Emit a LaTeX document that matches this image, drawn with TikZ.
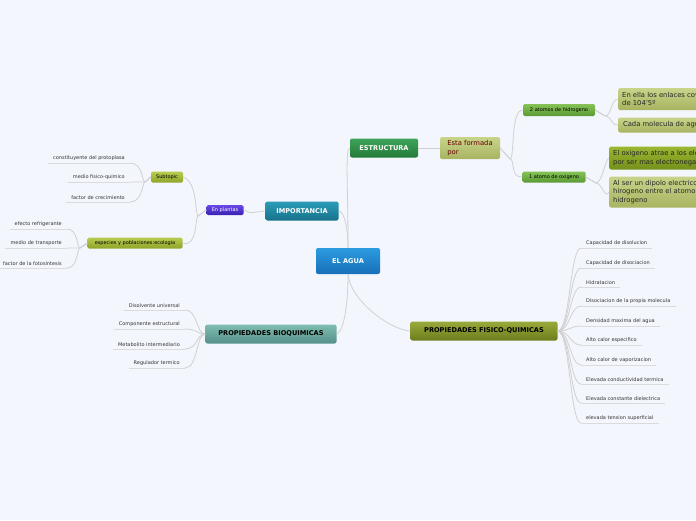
\documentclass[tikz,border=0pt]{standalone}
\usepackage{fontspec}
\setmainfont{DejaVu Sans}
\definecolor{bgc}{HTML}{F3F6FD}
\definecolor{rootT}{HTML}{2C9BE0}\definecolor{rootB}{HTML}{176FB8}
\definecolor{estT}{HTML}{3FA45A}\definecolor{estB}{HTML}{237A38}
\definecolor{impT}{HTML}{2A9DB8}\definecolor{impB}{HTML}{17728C}
\definecolor{bioT}{HTML}{80BDB0}\definecolor{bioB}{HTML}{54908A}
\definecolor{fisT}{HTML}{9AAA3A}\definecolor{fisB}{HTML}{6C7C1C}
\definecolor{grT}{HTML}{86C256}\definecolor{grB}{HTML}{5A9A34}
\definecolor{olT}{HTML}{C8D48A}\definecolor{olB}{HTML}{A8B460}
\definecolor{ogT}{HTML}{B8CC50}\definecolor{ogB}{HTML}{8EA428}
\definecolor{dkT}{HTML}{9AB832}\definecolor{dkB}{HTML}{74901A}
\definecolor{puT}{HTML}{6A48E8}\definecolor{puB}{HTML}{3A20B0}
\begin{document}
\begin{tikzpicture}[x=1pt,y=-1pt,
  box/.style={rounded corners=1.5pt,minimum height=#1,inner xsep=4pt,inner ysep=1pt,font=\fontsize{5}{6}\selectfont,text=black},
  main/.style={rounded corners=2pt,font=\bfseries\fontsize{6.6}{8}\selectfont,text=white,inner xsep=7pt,minimum height=19pt},
  big/.style={rounded corners=2pt,font=\fontsize{6.8}{8.5}\selectfont,align=left,inner xsep=4pt,inner ysep=3pt,text=black!85},
  leafR/.style={font=\fontsize{5}{6}\selectfont,inner xsep=5pt,inner ysep=2pt,anchor=south west,text=black!80},
  leafL/.style={font=\fontsize{5}{6}\selectfont,inner xsep=5pt,inner ysep=2pt,anchor=south east,text=black!80},
  ln/.style={draw=black!18,line width=0.8pt},
  ul/.style={draw=black!14,line width=0.7pt}]
\fill[bgc] (0,0) rectangle (696,520);
\useasboundingbox (0,0) rectangle (696,520);
\begin{scope}
\clip (0,0) rectangle (696,520);
\node[main,top color=rootT,bottom color=rootB,minimum width=64pt,minimum height=26pt] (root) at (348,261) {EL AGUA};
\node[main,top color=estT,bottom color=estB,minimum width=68pt] (est) at (384,148) {ESTRUCTURA};
\node[main,top color=impT,bottom color=impB,minimum width=73pt] (imp) at (302,211) {IMPORTANCIA};
\node[main,text=black,top color=bioT,bottom color=bioB,minimum width=131pt] (bio) at (271,334) {PROPIEDADES BIOQUIMICAS};
\node[main,text=black,top color=fisT,bottom color=fisB,minimum width=147pt] (fis) at (484,331) {PROPIEDADES FISICO-QUIMICAS};
\draw[ln] (root.north) .. controls (348,180) and (345,150) .. (est.west);
\draw[ln] (root.north) .. controls (348,230) and (345,212) .. (imp.east);
\draw[ln] (root.south) .. controls (348,300) and (345,330) .. (bio.east);
\draw[ln] (root.south) .. controls (350,300) and (390,330) .. (fis.west);
% estructura
\node[big,top color=olT,bottom color=olB,text=red!40!black,minimum width=60pt,minimum height=22pt] (ef) at (470,148) {Esta formada\\por};
\draw[ln] (est.east) -- (ef.west);
\node[box=12pt,top color=grT,bottom color=grB,minimum width=72pt] (h) at (559,110) {2 atomos de hidrogeno};
\node[box=11pt,top color=grT,bottom color=grB,minimum width=63pt] (o) at (554,177) {1 atomo de oxigeno};
\draw[ln] (ef.east) -- (510,159) .. controls (515,159) and (510,110) .. (h.west);
\draw[ln] (ef.east) -- (510,159) .. controls (515,159) and (510,178) .. (o.west);
\node[big,anchor=west,top color=olT,bottom color=olB,minimum width=90pt,minimum height=22pt] (h1) at (618,99) {En ella los enlaces covalentes forman\\de 104'5º};
\node[big,anchor=west,top color=olT,bottom color=olB,minimum width=90pt,minimum height=15pt] (h2) at (618,125) {Cada molecula de agua};
\node[big,anchor=west,top color=dkT,bottom color=dkB,minimum width=90pt,minimum height=23pt] (o1) at (609,158) {El oxigeno atrae a los electrones\\por ser mas electronegativo};
\node[big,anchor=west,top color=olT,bottom color=olB,minimum width=90pt,minimum height=31pt] (o2) at (609,192) {Al ser un dipolo electrico\\hirogeno entre el atomo\\hidrogeno};
\draw[ln] (h.east) -- (605,116) .. controls (612,116) and (610,100) .. (h1.west);
\draw[ln] (h.east) -- (605,116) .. controls (612,116) and (610,125) .. (h2.west);
\draw[ln] (o.east) -- (596,183) .. controls (602,183) and (605,160) .. (o1.west);
\draw[ln] (o.east) -- (596,183) .. controls (602,183) and (605,200) .. (o2.west);
% importancia
\node[box=10pt,text=white,top color=puT,bottom color=puB,minimum width=37pt] (pl) at (225,210) {En plantas};
\draw[ln] (imp.west) .. controls (250,212) and (255,215) .. (pl.east);
\node[box=11pt,top color=ogT,bottom color=ogB,minimum width=32pt] (sub) at (167,177) {Subtopic};
\node[box=11pt,top color=ogT,bottom color=ogB,minimum width=95pt] (esp) at (135,243) {especies y poblaciones:ecologia};
\draw[ln] (pl.west) -- (198,216) .. controls (195,216) and (198,182) .. (sub.east);
\draw[ln] (pl.west) -- (198,216) .. controls (195,216) and (198,248) .. (esp.east);
\foreach \t/\y/\x [count=\i] in {constituyente del protoplasa/163/130,medio fisico-quimico/182/130,factor de crecimiento/202/130}{
  \node[leafL] (s\i) at (\x,\y) {\t};
  \draw[ul] (s\i.south west) -- (s\i.south east);
  \draw[ln] (sub.west) -- (145,182) .. controls (142,182) and (143,\y) .. (s\i.south east);}
\foreach \t/\y [count=\i] in {efecto refrigerante/229,medio de transporte/248,factor de la fotosintesis/268}{
  \node[leafL] (e\i) at (67,\y) {\t};
  \draw[ul] (e\i.south west) -- (e\i.south east);
  \draw[ln] (esp.west) -- (80,248) .. controls (77,248) and (78,\y) .. (e\i.south east);}
% bioquimicas
\foreach \t/\y [count=\i] in {Disolvente universal/310,Componente estructural/329,Metabolito intermediario/349,Regulador termico/368}{
  \node[leafL] (b\i) at (185,\y) {\t};
  \draw[ul] (b\i.south west) -- (b\i.south east);
  \draw[ln] (bio.west) .. controls (196,334) and (198,\y) .. (b\i.south east);}
% fisico
\foreach \t/\y [count=\i] in {Capacidad de disolucion/248,Capacidad de disociacion/268,Hidratacion/287,Disociacion de la propia molecula/306,Densidad maxima del agua/326,Alto calor especifico/345,Alto calor de vaporizacion/365,Elevada conductividad termica/384,Elevada constante dielectrica/403,elevada tension superficial/423}{
  \node[leafR] (f\i) at (581,\y) {\t};
  \draw[ul] (f\i.south west) -- (f\i.south east);
  \draw[ln] (fis.east) .. controls (570,331) and (570,\y) .. (f\i.south west);}
\end{scope}
\end{tikzpicture}
\end{document}
